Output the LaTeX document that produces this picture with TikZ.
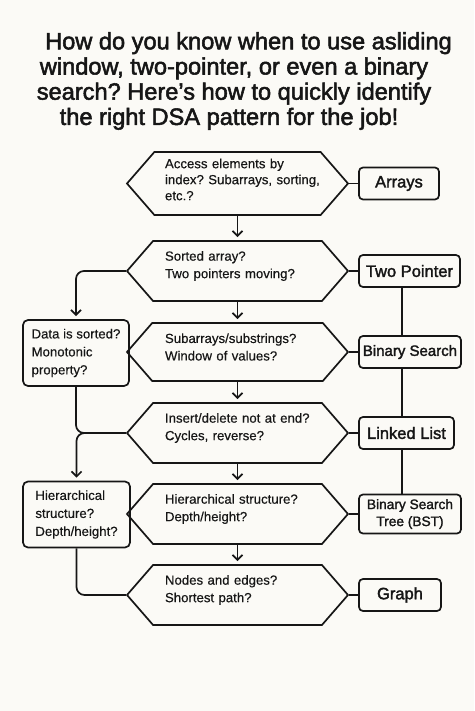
\documentclass[tikz,border=0pt]{standalone}
\usepackage{fontspec}
\setmainfont{Liberation Sans}
\frenchspacing
\usetikzlibrary{shapes.symbols, positioning, arrows.meta}
\definecolor{paper}{HTML}{FBFAF6}
\definecolor{ink}{HTML}{161616}

\tikzset{
  ask/.style={signal, signal to=east and west, signal pointer angle=98, draw=ink,
    line width=1.7pt, minimum width=221pt, minimum height=60pt, inner sep=0pt},
  asktext/.style={yshift=5pt, xshift=15pt, text width=175pt, align=left, inner sep=0pt,
    font=\fontsize{13.2}{17.5}\selectfont\addfontfeature{FakeBold=0.4}, text=ink},
  answer/.style={draw=ink, line width=1.7pt, rounded corners=4pt, minimum height=32pt,
    inner xsep=0pt, text=ink, font=\fontsize{16.5}{18}\selectfont\addfontfeature{FakeBold=2}},
  check/.style={draw=ink, line width=1.7pt, rounded corners=5pt, minimum width=106pt,
    minimum height=66pt, align=left, text=ink,
    font=\fontsize{13.2}{18}\selectfont\addfontfeature{FakeBold=0.4}},
  flow/.style={draw=ink, line width=1.7pt, -{Straight Barb[length=5pt,width=10pt]}, shorten >=3pt},
  link/.style={draw=ink, line width=1.7pt, rounded corners=8pt}
}

\begin{document}
\begin{tikzpicture}[x=1pt, y=-1pt]
  \path[use as bounding box, fill=paper] (0,0) rectangle (474,711);

  % heading
  \node[anchor=north, inner sep=0pt, align=center, text=ink,
        font=\fontsize{23.6}{25.2}\selectfont\addfontfeature{FakeBold=2.2}] (head) at (234,32)
    {\hspace*{29pt}How do you know when to use asliding\\
     window, two-pointer, or even a binary\\
     search? Here’s how to quickly identify\\
     the right DSA pattern for the job!\hspace*{10pt}};

  % questions down the middle
  \node[ask, minimum height=63pt,
        label={[asktext, yshift=-1pt, font=\fontsize{13.2}{16}\selectfont\addfontfeature{FakeBold=0.4}]center:{Access elements by\\index? Subarrays, sorting,\\etc.?}}]
        (access) at (237.5,183.5) {};
  \node[ask, label={[asktext]center:{Sorted array?\\Two pointers moving?}}]
        (sorted) at (237.5,271) {};
  \node[ask, minimum height=58pt, label={[asktext]center:{Subarrays/substrings?\\Window of values?}}]
        (window) at (237.5,352) {};
  \node[ask, label={[asktext]center:{Insert/delete not at end?\\Cycles, reverse?}}]
        (insert) at (237.5,433) {};
  \node[ask, label={[asktext]center:{Hierarchical structure?\\Depth/height?}}]
        (tree) at (237.5,514) {};
  \node[ask, label={[asktext]center:{Nodes and edges?\\Shortest path?}}]
        (nodes) at (237.5,595) {};

  % answers on the right
  \node[answer, minimum width=80pt, right=9pt of access] (arrays) {Arrays};
  \node[answer, minimum width=101pt, right=9pt of sorted] (twoptr) {Two Pointer};
  \node[answer, minimum width=102pt, right=9pt of window,
        font=\fontsize{15}{18}\selectfont\addfontfeature{FakeBold=2}] (bsearch) {Binary Search};
  \node[answer, minimum width=95pt, right=9pt of insert] (llist) {Linked List};
  \node[answer, minimum width=102pt, minimum height=39pt, right=9pt of tree, align=center,
        font=\fontsize{13.7}{17}\selectfont\addfontfeature{FakeBold=1.6}] (bst) {Binary Search\\Tree (BST)};
  \node[answer, minimum width=82pt, right=9pt of nodes] (graph) {Graph};

  % side checks on the left
  \node[check] (monotone) at (76,353) {Data is sorted?\\Monotonic\\property?};
  \node[check, minimum width=107pt] (depth) at (76.5,514.5) {Hierarchical\\structure?\\Depth/height?};

  % connectors
  \foreach \a/\b in {access/sorted, sorted/window, window/insert, insert/tree, tree/nodes}
    \draw[flow] (\a) -- (\b);
  \foreach \a/\b in {access/arrays, sorted/twoptr, window/bsearch, insert/llist, tree/bst, nodes/graph}
    \draw[link] (\a.east) -- (\b.west);

  \coordinate (spine) at (402,0);
  \foreach \a/\b in {twoptr/bsearch, bsearch/llist, llist/bst}
    \draw[link] (\a.south -| spine) -- (\b.north -| spine);

  \draw[flow, rounded corners=8pt] (sorted.west) -| (monotone.north);
  \draw[link] (monotone.south) |- (insert.west);
  \draw[flow, rounded corners=8pt] (insert.west) -| (depth.north);
  \draw[link] (depth.south) |- (nodes.west);
\end{tikzpicture}
\end{document}
